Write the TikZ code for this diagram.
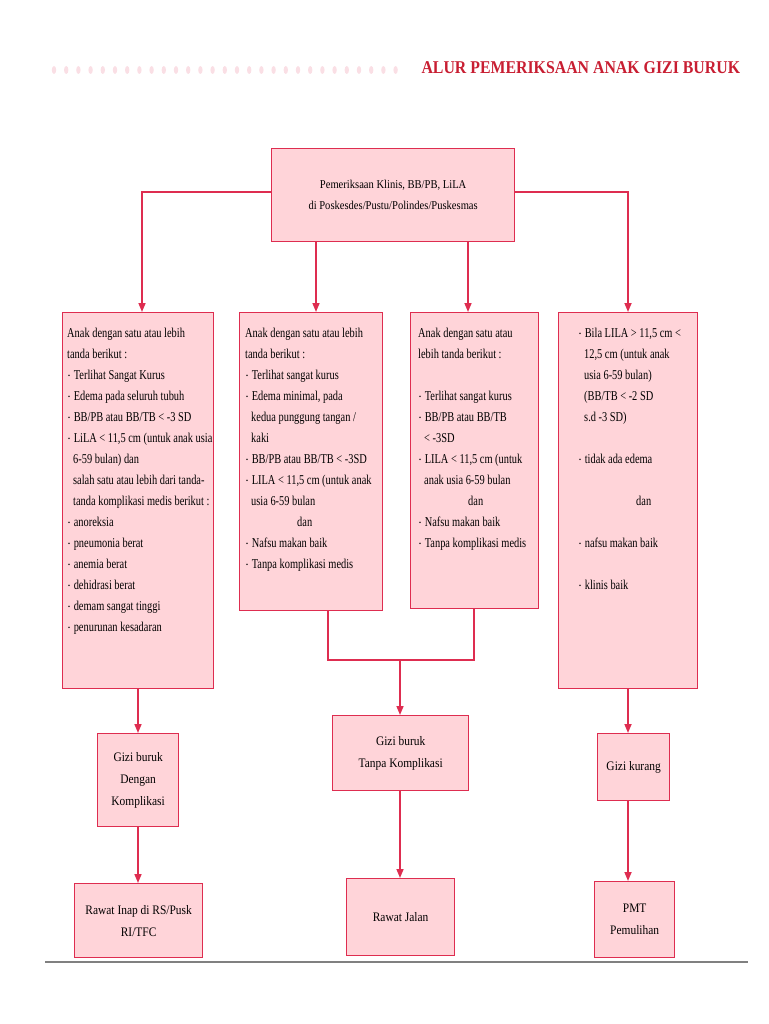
\documentclass[tikz,border=0pt]{standalone}
\usepackage{fontspec}
\setmainfont{Liberation Serif}[FakeStretch=0.88]
\newfontfamily\boxfont{Liberation Serif}[FakeStretch=0.77]
\usetikzlibrary{arrows.meta}
\definecolor{bx}{RGB}{255,212,217}
\definecolor{rd}{RGB}{222,45,80}
\definecolor{tt}{RGB}{200,30,50}
\begin{document}
\begin{tikzpicture}[x=1pt,y=-1pt,
 box/.style={draw=rd,line width=1.3pt,fill=bx,inner sep=0pt,anchor=north west},
 txt/.style={anchor=north west,align=left,inner sep=0pt,font=\boxfont\fontsize{13.5}{21}\selectfont},
 ctxt/.style={align=center,inner sep=0pt,font=\fontsize{13}{22}\selectfont},
 ln/.style={draw=rd,line width=1.6pt},
 ar/.style={ln,-{Triangle[length=9pt,width=7pt]}}]
\useasboundingbox (0,0) rectangle (768,1024);
% title
\foreach \i in {0,...,28} \fill[rd!15] (54+\i*12.2,70) ellipse (2.2 and 4);
\node[anchor=west,text=tt,font=\fontsize{18}{20}\selectfont\bfseries] (title) at (418,68) {ALUR PEMERIKSAAN ANAK GIZI BURUK};
% top
\node[box,minimum width=243,minimum height=93] (top) at (271,148) {};
\node[ctxt,font=\fontsize{12}{21}\selectfont] (topt) at (top.center) {Pemeriksaan Klinis, BB/PB, LiLA\\di Poskesdes/Pustu/Polindes/Puskesmas};
% level boxes
\node[box,minimum width=151,minimum height=376] (b1) at (62,312) {};
\node[box,minimum width=143,minimum height=298] (b2) at (239,312) {};
\node[box,minimum width=128,minimum height=296] (b3) at (410,312) {};
\node[box,minimum width=139,minimum height=376] (b4) at (558,312) {};
\def\bl{$\cdot$\ }
\def\ind{\hspace*{6pt}}
\node[txt] (t1) at (67,328) {Anak dengan satu atau lebih\\tanda berikut :\\
\bl Terlihat Sangat Kurus\\ \bl Edema pada seluruh tubuh\\ \bl BB/PB atau BB/TB < -3 SD\\
\bl LiLA < 11,5 cm (untuk anak usia\\ \ind 6-59 bulan) dan\\ \ind salah satu atau lebih dari tanda-\\ \ind tanda komplikasi medis berikut :\\
\bl anoreksia\\ \bl pneumonia berat\\ \bl anemia berat\\ \bl dehidrasi berat\\ \bl demam sangat tinggi\\ \bl penurunan kesadaran};
\node[txt] (t2) at (245,328) {Anak dengan satu atau lebih\\tanda berikut :\\
\bl Terlihat sangat kurus\\ \bl Edema minimal, pada\\ \ind kedua punggung tangan /\\ \ind kaki\\
\bl BB/PB atau BB/TB < -3SD\\ \bl LILA < 11,5 cm (untuk anak\\ \ind usia 6-59 bulan\\ \hspace*{52pt}dan\\
\bl Nafsu makan baik\\ \bl Tanpa komplikasi medis};
\node[txt] (t3) at (418,328) {Anak dengan satu atau\\lebih tanda berikut :\\[21pt]
\bl Terlihat sangat kurus\\ \bl BB/PB atau BB/TB\\ \ind < -3SD\\ \bl LILA < 11,5 cm (untuk\\ \ind anak usia 6-59 bulan\\ \hspace*{50pt}dan\\
\bl Nafsu makan baik\\ \bl Tanpa komplikasi medis};
\node[txt] (t4) at (578,328) {\bl Bila LILA > 11,5 cm <\\ \ind 12,5 cm (untuk anak\\ \ind usia 6-59 bulan)\\ \ind (BB/TB < -2 SD\\ \ind s.d -3 SD)\\[21pt]
\bl tidak ada edema\\[21pt] \hspace*{58pt}dan\\[21pt] \bl nafsu makan baik\\[21pt] \bl klinis baik};
% middle row
\node[box,minimum width=81,minimum height=93] (g1) at (97,733) {};
\node[ctxt] at (g1.center) {Gizi buruk\\Dengan\\Komplikasi};
\node[box,minimum width=136,minimum height=75] (g2) at (332,715) {};
\node[ctxt] at (g2.center) {Gizi buruk\\Tanpa Komplikasi};
\node[box,minimum width=72,minimum height=67] (g3) at (597,733) {};
\node[ctxt] at (g3.center) {Gizi kurang};
% bottom row
\node[box,minimum width=128,minimum height=74] (r1) at (74,883) {};
\node[ctxt] at (r1.center) {Rawat Inap di RS/Pusk\\RI/TFC};
\node[box,minimum width=108,minimum height=77] (r2) at (346,878) {};
\node[ctxt] at (r2.center) {Rawat Jalan};
\node[box,minimum width=80,minimum height=76] (r3) at (594,881) {};
\node[ctxt] at (r3.center) {PMT\\Pemulihan};
% connectors
\coordinate (cl) at (142,192);
\coordinate (cr) at (628,192);
\draw[ar] (top.west |- cl) -- (cl) -- (cl |- b1.north);
\draw[ar] (top.east |- cr) -- (cr) -- (cr |- b4.north);
\draw[ar] (316,241) -- (316,312);
\draw[ar] (468,241) -- (468,312);
\coordinate (j) at (400,660);
\draw[ln] (328,610) -- (328,660) -- (474,660) -- (474,608);
\draw[ar] (j) -- (j |- g2.north);
\draw[ar] (138,688) -- (138,733);
\draw[ar] (138,826) -- (138,883);
\draw[ar] (400,790) -- (400,878);
\draw[ar] (628,688) -- (628,733);
\draw[ar] (628,800) -- (628,881);
\draw[gray,line width=1.5pt] (45,962) -- (748,962);
\end{tikzpicture}
\end{document}
